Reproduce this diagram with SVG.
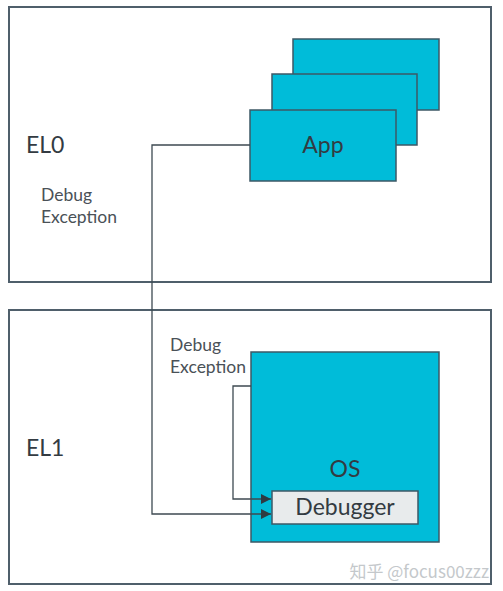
<svg xmlns="http://www.w3.org/2000/svg" width="503" height="591" viewBox="0 0 503 591">
<defs>
<style>
.frame{fill:#ffffff;stroke:#4f5f6b;stroke-width:2}
.box{fill:#00bcd9;stroke:#3d5866;stroke-width:1.5}
.dbg{fill:#e8ebec;stroke:#3d5866;stroke-width:1.5}
.wire{fill:none;stroke:#3e4a52;stroke-width:1.3}
text{font-family:Lato,"Open Sans","Liberation Sans",sans-serif;fill:#333b42}
.big{font-size:23px}
.lbl{font-size:17.5px;fill:#4a5157}
</style>
<marker id="arr" viewBox="0 0 10 10" refX="10" refY="5" markerWidth="10" markerHeight="10" markerUnits="userSpaceOnUse" orient="auto">
<path d="M0,0 L10,5 L0,10 z" fill="#2f3a42"/>
</marker>
</defs>
<rect width="503" height="591" fill="#ffffff"/>
<g id="el0">
<rect class="frame" x="9" y="7" width="482" height="275"/>
<text class="big" x="26" y="153">EL0</text>
<text class="lbl" x="41" y="201">Debug</text>
<text class="lbl" x="41" y="223">Exception</text>
</g>
<g id="el1">
<rect class="frame" x="9" y="310" width="482" height="274"/>
<text class="big" x="26" y="456">EL1</text>
<text class="lbl" x="170" y="351">Debug</text>
<text class="lbl" x="170" y="373">Exception</text>
</g>
<g id="app3"><rect class="box" x="293" y="39" width="146" height="71"/></g>
<g id="app2"><rect class="box" x="272" y="74" width="145" height="71"/></g>
<g id="app">
<rect class="box" x="250" y="110" width="146" height="71"/>
<text class="big" x="323" y="153" text-anchor="middle">App</text>
</g>
<g id="os">
<rect class="box" x="251" y="352" width="188" height="190"/>
<text class="big" x="345" y="477" text-anchor="middle">OS</text>
</g>
<g id="debugger">
<rect class="dbg" x="272" y="491" width="146" height="33"/>
<text class="big" x="345" y="515" text-anchor="middle">Debugger</text>
</g>
<g id="connectors">
<path class="wire" d="M250,145 H152 V514 H271" marker-end="url(#arr)"/>
<path class="wire" d="M251,386 H233 V499 H271" marker-end="url(#arr)"/>
</g>
<text x="489" y="578" text-anchor="end" style="font-family:'Noto Sans CJK SC','Noto Sans',sans-serif;font-size:17px;fill:#c4c8cb">知乎 @focus00zzz</text>
</svg>
